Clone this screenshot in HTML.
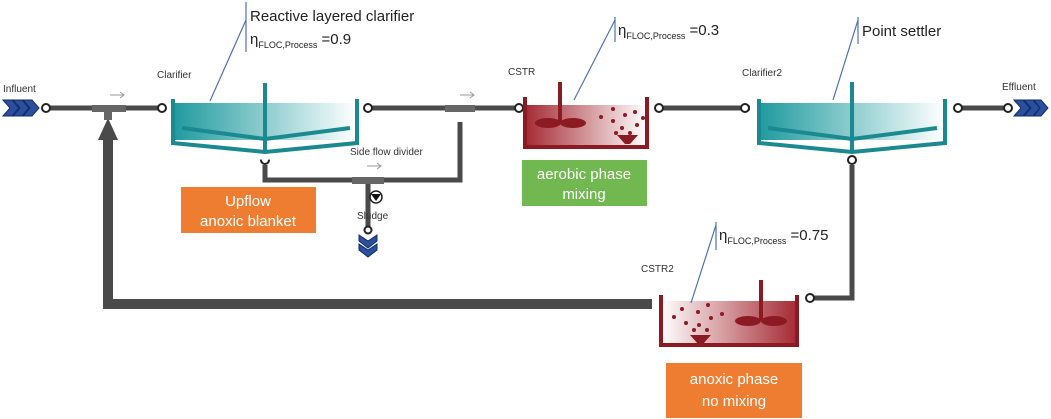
<!DOCTYPE html>
<html><head><meta charset="utf-8"><style>
html,body{margin:0;padding:0;background:#fff;}
svg{display:block;font-family:"Liberation Sans",sans-serif;}
.lbl{font-size:10px;fill:#333;}
.ann{font-size:15px;fill:#222;}
.sub{font-size:9px;fill:#222;}
.box{font-size:15px;fill:#fff;text-anchor:middle;}
</style></head><body>
<svg width="1051" height="419" viewBox="0 0 1051 419">
<defs>
<linearGradient id="teal" x1="0" x2="1" y1="0" y2="0"><stop offset="0" stop-color="#1f9a9f"/><stop offset="1" stop-color="#ffffff"/></linearGradient>
<linearGradient id="red" x1="0" x2="1"><stop offset="0" stop-color="#a52a33"/><stop offset="1" stop-color="#ffffff"/></linearGradient>
<linearGradient id="red2" x1="1" x2="0"><stop offset="0" stop-color="#a52a33"/><stop offset="1" stop-color="#ffffff"/></linearGradient>
<marker id="ar" markerWidth="4" markerHeight="4" refX="3" refY="2" orient="auto"><path d="M0,0 L4,2 L0,4z" fill="#444"/></marker>
</defs>
<g stroke="#4a4a4a" fill="none" stroke-linecap="butt">
<!-- main lines -->
<line x1="45" y1="108" x2="165" y2="108" stroke-width="5"/>
<line x1="368" y1="108" x2="515" y2="108" stroke-width="5"/>
<line x1="655" y1="108" x2="750" y2="108" stroke-width="5"/>
<line x1="960" y1="108" x2="1012" y2="108" stroke-width="5"/>
<!-- under-clarifier path -->
<polyline points="265,165 265,180 460,180 460,122" stroke-width="5"/>
<line x1="368" y1="180" x2="368" y2="228" stroke-width="5"/>
<!-- clarifier2 down to cstr2 -->
<polyline points="852,165 852,298 812,298" stroke-width="5"/>
<!-- recycle -->
<polyline points="652,304 108,304 108,135" stroke-width="10"/>
</g>
<path d="M98,140 L108,118 L118,140z" fill="#4a4a4a"/>
<!-- tees -->
<rect x="92" y="105" width="34" height="7" fill="#666"/>
<rect x="104" y="110" width="8" height="10" fill="#666"/>
<rect x="445" y="105" width="30" height="7" fill="#666"/>
<rect x="352" y="177" width="32" height="7" fill="#666"/>
<g stroke="#999" stroke-width="1" fill="none">
<path d="M110,95 H124 M120,92 L124,95 L120,98"/>
<path d="M460,95 H474 M470,92 L474,95 L470,98"/>
<path d="M367,166 H381 M377,163 L381,166 L377,169"/>
</g>
<!-- connector circles -->
<g fill="#fff" stroke="#222" stroke-width="2">
<circle cx="46" cy="108" r="4"/><circle cx="162" cy="108" r="4"/><circle cx="368" cy="108" r="4"/>
<circle cx="519" cy="108" r="4"/><circle cx="659" cy="108" r="4"/><circle cx="745" cy="108" r="4"/>
<circle cx="958" cy="108" r="4"/><circle cx="1008" cy="108" r="4"/>
<circle cx="265" cy="160" r="4"/><circle cx="852" cy="160" r="4"/><circle cx="368" cy="230" r="3.5"/>
<circle cx="810" cy="298" r="4"/>
</g>
<circle cx="376" cy="197" r="6" fill="#fff" stroke="#222" stroke-width="1.5"/>
<path d="M371,194 L381,194 L376,201z" fill="#111"/>
<!-- influent / effluent / sludge -->
<g fill="#2b4f9a" stroke="#102c6e" stroke-width="1">
<path d="M3,100 L12,100 L19,108 L12,116 L3,116 L10,108z"/>
<path d="M13,100 L22,100 L29,108 L22,116 L13,116 L20,108z"/>
<path d="M23,100 L32,100 L39,108 L32,116 L23,116 L30,108z"/>
<path d="M1014,100 L1023,100 L1030,108 L1023,116 L1014,116 L1021,108z"/>
<path d="M1024,100 L1033,100 L1040,108 L1033,116 L1024,116 L1031,108z"/>
<path d="M1034,100 L1041,100 L1048,108 L1041,116 L1034,116 L1040,108z"/>
<path d="M359,235 L368,241 L377,235 L377,241 L368,248 L359,241z"/>
<path d="M359,244 L368,250 L377,244 L377,250 L368,257 L359,250z"/>
</g>
<!-- Clarifier -->
<rect x="173" y="103" width="184" height="37" fill="url(#teal)"/>
<path d="M173,140 L265,150 L357,140 L357,150 L265,160 L173,150z" fill="#fff"/>
<g stroke="#1a8a90" stroke-width="4" fill="none">
<path d="M173,99 V143 L265,152 L357,143 V99"/>
<path d="M182,128 L265,139 L350,128"/>
<line x1="265" y1="83" x2="265" y2="152"/>
</g>
<!-- Clarifier2 -->
<rect x="759" y="103" width="186" height="37" fill="url(#teal)"/>
<g stroke="#1a8a90" stroke-width="4" fill="none">
<path d="M759,99 V143 L852,152 L945,143 V99"/>
<path d="M768,128 L852,139 L937,128"/>
<line x1="852" y1="82" x2="852" y2="152"/>
</g>
<!-- CSTR -->
<rect x="525" y="105" width="122" height="42" fill="url(#red)"/>
<path d="M525,97 V147 H647 V97" stroke="#8b1a22" stroke-width="4" fill="none"/>
<line x1="560" y1="82" x2="560" y2="122" stroke="#8b1a22" stroke-width="4"/>
<g fill="#8b1a22">
<ellipse cx="548" cy="123" rx="13" ry="5"/><ellipse cx="573" cy="123" rx="13" ry="5"/>
<path d="M617,135 H638 L630,144 H625z"/>
<circle cx="601" cy="117" r="2"/><circle cx="613" cy="109" r="2"/><circle cx="613" cy="121" r="2"/><circle cx="625" cy="115" r="2"/><circle cx="622" cy="128" r="2"/><circle cx="635" cy="112" r="2"/><circle cx="637" cy="125" r="2"/><circle cx="630" cy="133" r="2"/><circle cx="643" cy="118" r="2"/><circle cx="616" cy="133" r="2"/>
</g>
<!-- CSTR2 -->
<rect x="661" y="301" width="136" height="44" fill="url(#red2)"/>
<path d="M661,295 V345 H797 V295" stroke="#8b1a22" stroke-width="4" fill="none"/>
<line x1="761" y1="280" x2="761" y2="320" stroke="#8b1a22" stroke-width="4"/>
<g fill="#8b1a22">
<ellipse cx="748" cy="321" rx="13" ry="5"/><ellipse cx="774" cy="321" rx="13" ry="5"/>
<path d="M690,335 H711 L703,344 H698z"/>
<circle cx="674" cy="317" r="2"/><circle cx="682" cy="309" r="2"/><circle cx="686" cy="323" r="2"/><circle cx="698" cy="312" r="2"/><circle cx="699" cy="325" r="2"/><circle cx="708" cy="305" r="2"/><circle cx="711" cy="318" r="2"/><circle cx="722" cy="314" r="2"/><circle cx="694" cy="330" r="2"/><circle cx="707" cy="330" r="2"/>
</g>
<!-- labels -->
<text class="lbl" x="3" y="92">Influent</text>
<text class="lbl" x="157" y="78">Clarifier</text>
<text class="lbl" x="350" y="155">Side flow divider</text>
<text class="lbl" x="357" y="219">Sludge</text>
<text class="lbl" x="508" y="75">CSTR</text>
<text class="lbl" x="742" y="76">Clarifier2</text>
<text class="lbl" x="1002" y="90">Effluent</text>
<text class="lbl" x="641" y="272">CSTR2</text>
<!-- annotation leaders -->
<g stroke="#4f6fb8" stroke-width="1.2" fill="none">
<line x1="246" y1="2" x2="246" y2="52"/><line x1="246" y1="20" x2="210" y2="101"/>
<line x1="615" y1="17" x2="615" y2="42"/><line x1="615" y1="20" x2="574" y2="100"/>
<line x1="858" y1="17" x2="858" y2="44"/><line x1="858" y1="20" x2="833" y2="100"/>
<line x1="716" y1="222" x2="716" y2="250"/><line x1="716" y1="225" x2="691" y2="303"/>
</g>
<text class="ann" x="250" y="21" font-size="16">Reactive layered clarifier</text>
<text class="ann" x="250" y="44">η<tspan class="sub" dy="4">FLOC,Process</tspan><tspan dy="-4"> =0.9</tspan></text>
<text class="ann" x="618" y="35">η<tspan class="sub" dy="4">FLOC,Process</tspan><tspan dy="-4"> =0.3</tspan></text>
<text class="ann" x="862" y="36">Point settler</text>
<text class="ann" x="719" y="240">η<tspan class="sub" dy="4">FLOC,Process</tspan><tspan dy="-4"> =0.75</tspan></text>
<!-- boxes -->
<rect x="181" y="187" width="135" height="46" fill="#ee7d31"/>
<text class="box" x="248" y="206">Upflow</text><text class="box" x="248" y="226">anoxic blanket</text>
<rect x="522" y="160" width="125" height="46" fill="#70b84f"/>
<text class="box" x="584" y="179">aerobic phase</text><text class="box" x="584" y="199">mixing</text>
<rect x="666" y="363" width="136" height="55" fill="#ee7d31"/>
<text class="box" x="734" y="384">anoxic phase</text><text class="box" x="734" y="406">no mixing</text>
</svg>
</body></html>
